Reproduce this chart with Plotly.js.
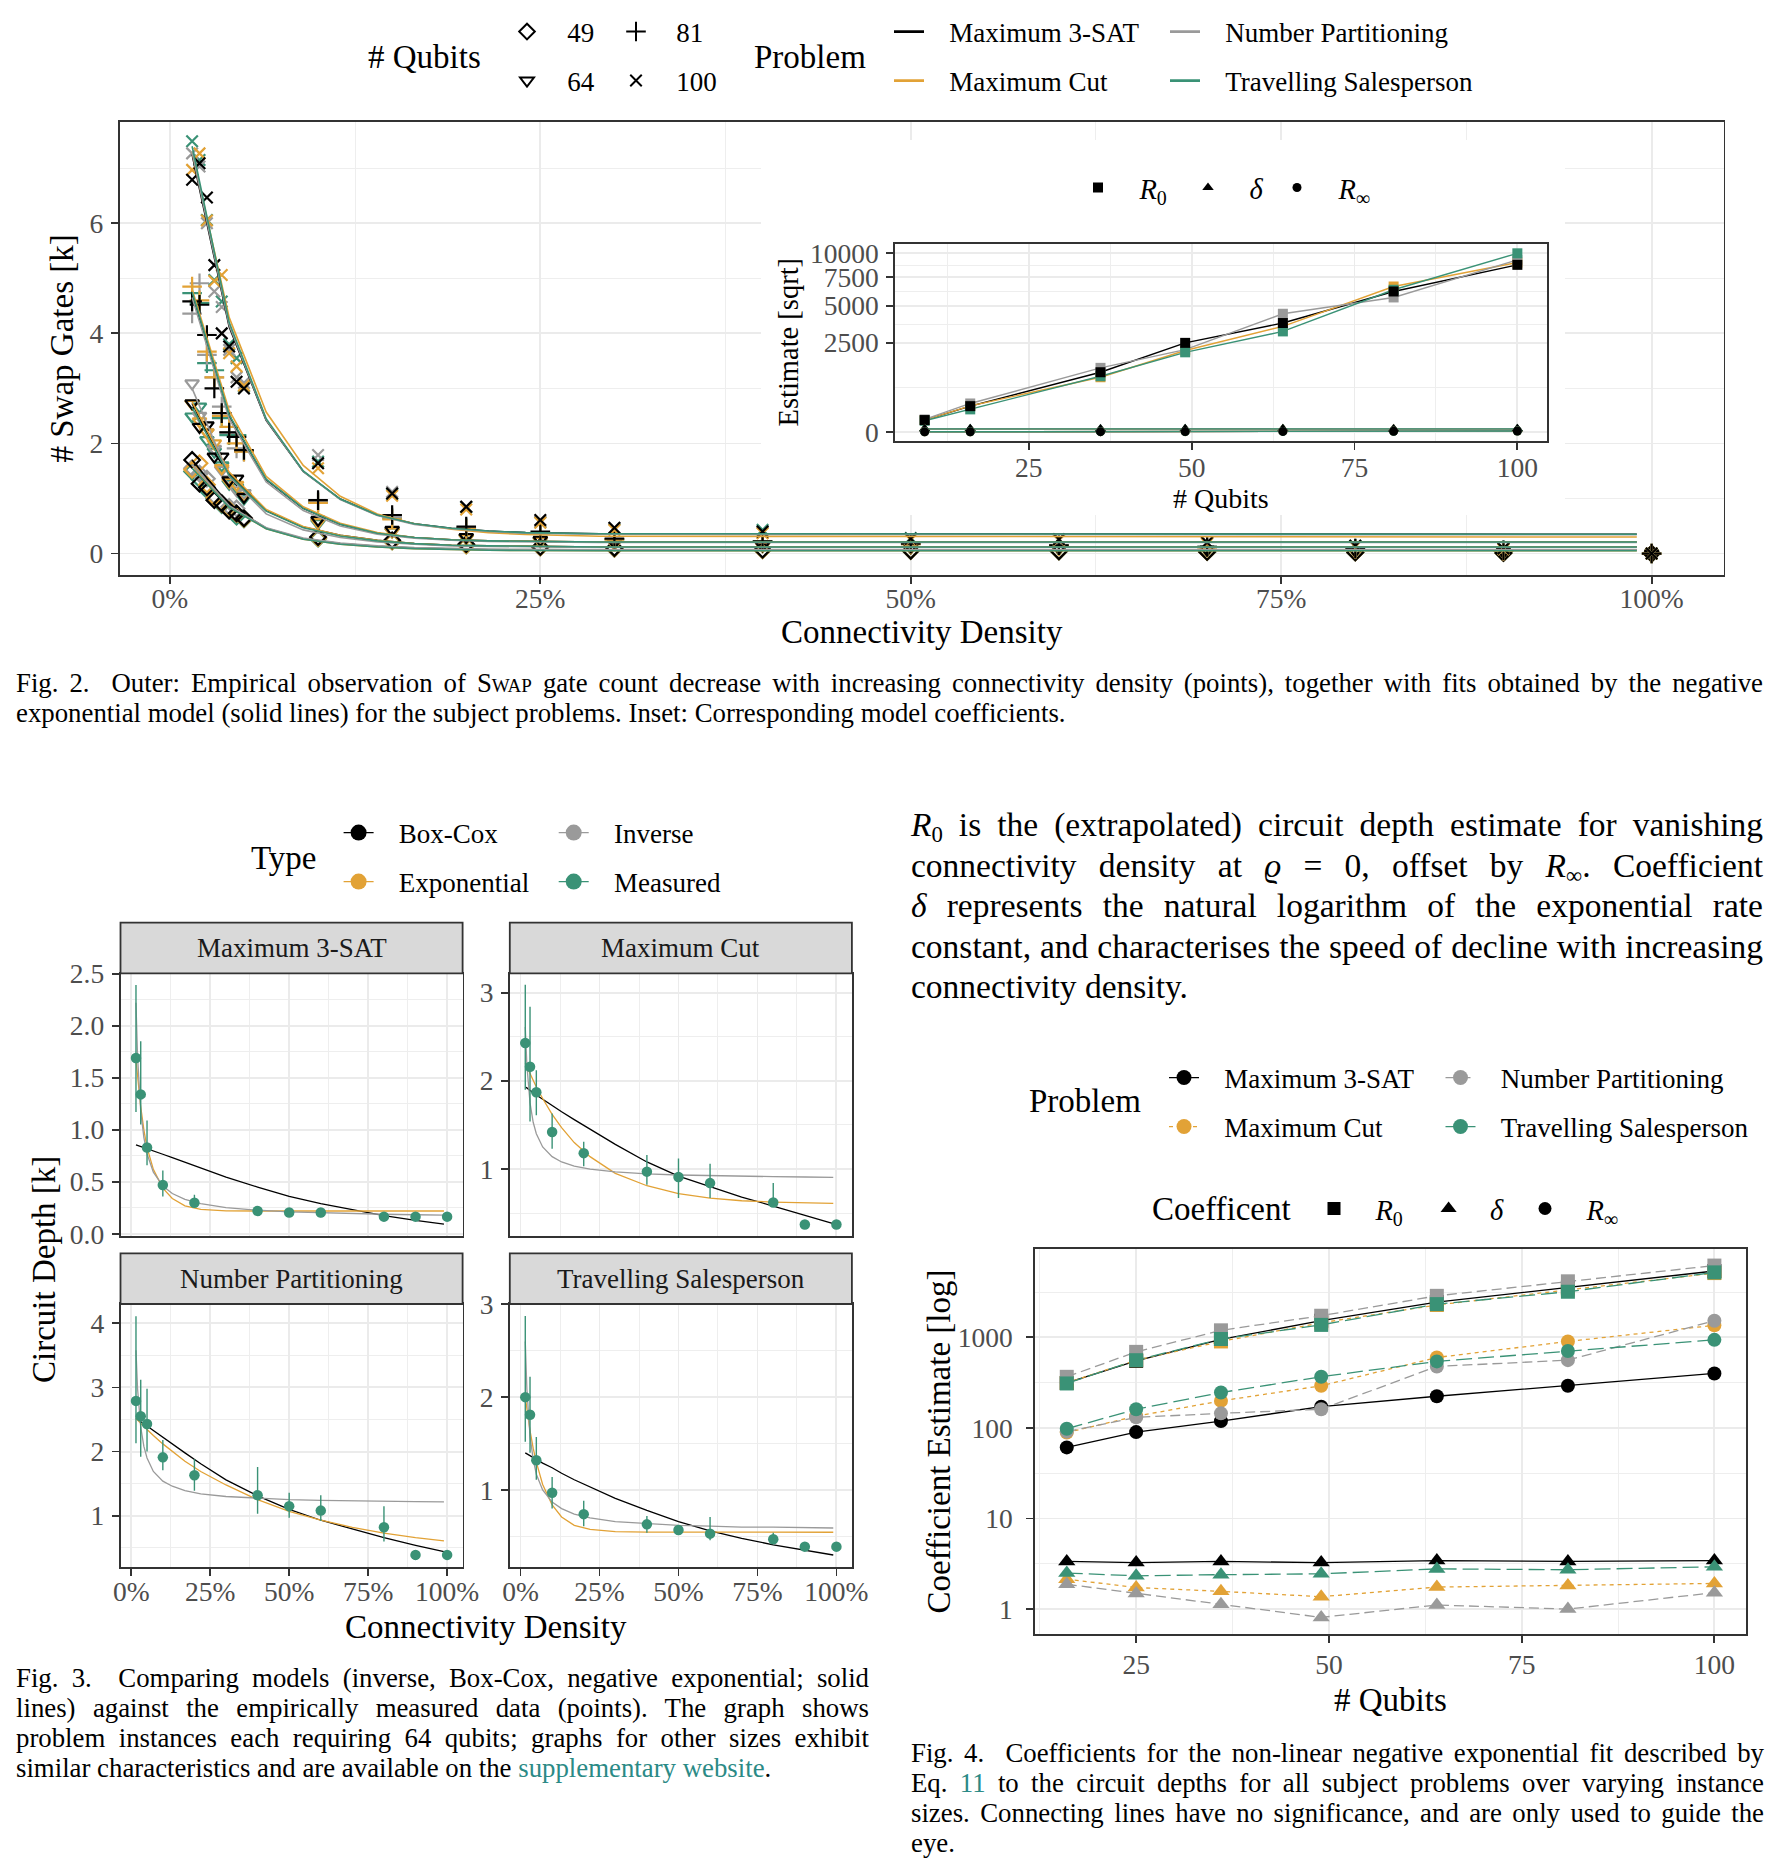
<!DOCTYPE html>
<html>
<head>
<meta charset="utf-8">
<title>SWAP gate and circuit depth figures</title>
<script src="https://cdn.plot.ly/plotly-3.0.1.min.js"></script>
<style>
html,body{margin:0;padding:0;background:#ffffff;}
#page{position:relative;width:1788px;height:1874px;overflow:hidden;background:#ffffff;
  font-family:"Liberation Serif","Times New Roman",serif;color:#000;}
#chart{position:absolute;left:0;top:0;width:1788px;height:1874px;}
.blk{position:absolute;}
.cap{font-size:26.8px;line-height:30px;}
.body{font-size:33.5px;line-height:40.6px;}
.j{text-align:justify;text-align-last:justify;white-space:nowrap;}
.l{white-space:nowrap;}
.sc{font-variant:small-caps;}
.lnk{color:#2b8a86;}
.m{font-style:italic;}
sub{font-size:0.68em;line-height:0;vertical-align:-0.28em;}
</style>
</head>
<body>
<div id="page">
<div id="chart"></div>

<div class="blk cap" style="left:16px;top:668px;width:1747px">
<div class="j">Fig. 2.&nbsp;&nbsp;Outer: Empirical observation of <span class="sc">Swap</span> gate count decrease with increasing connectivity density (points), together with fits obtained by the negative</div>
<div class="l">exponential model (solid lines) for the subject problems. Inset: Corresponding model coefficients.</div>
</div>

<div class="blk body" style="left:911px;top:805px;width:852px">
<div class="j"><span class="m">R</span><sub>0</sub> is the (extrapolated) circuit depth estimate for vanishing</div>
<div class="j">connectivity density at <span class="m">ϱ</span> = 0, offset by <span class="m">R</span><sub>∞</sub>. Coefficient</div>
<div class="j"><span class="m">δ</span> represents the natural logarithm of the exponential rate</div>
<div class="j">constant, and characterises the speed of decline with increasing</div>
<div class="l">connectivity density.</div>
</div>

<div class="blk cap" style="left:16px;top:1663px;width:853px">
<div class="j">Fig. 3.&nbsp;&nbsp;Comparing models (inverse, Box-Cox, negative exponential; solid</div>
<div class="j">lines) against the empirically measured data (points). The graph shows</div>
<div class="j">problem instances each requiring 64 qubits; graphs for other sizes exhibit</div>
<div class="l">similar characteristics and are available on the <span class="lnk">supplementary website</span>.</div>
</div>

<div class="blk cap" style="left:911px;top:1738px;width:853px">
<div class="j">Fig. 4.&nbsp;&nbsp;Coefficients for the non-linear negative exponential fit described by</div>
<div class="j">Eq. <span class="lnk">11</span> to the circuit depths for all subject problems over varying instance</div>
<div class="j">sizes. Connecting lines have no significance, and are only used to guide the</div>
<div class="l">eye.</div>
</div>
</div>

<script>
// ================= DATA =================
// ---- Fig. 2 outer: SWAP gates [k] vs connectivity density ----
const densities = [0.015,0.02,0.025,0.03,0.035,0.04,0.045,0.05,0.10,0.15,0.20,0.25,0.30,0.40,0.50,0.60,0.70,0.80,0.90,1.00];

const swaps100_sat = [6.79,7.09,6.47,5.24,4.00,3.76,3.12,3.00,1.64,1.09,0.85,0.61,0.47,0.40,0.27,0.26,0.20,0.14,0.09,0.00];
const swaps100_cut = [6.97,7.27,6.05,4.95,5.06,3.64,3.40,3.05,1.55,1.05,0.80,0.56,0.43,0.37,0.25,0.25,0.18,0.13,0.08,0.00];
const swaps100_np  = [7.27,7.03,6.00,4.76,4.48,3.70,3.20,3.10,1.79,1.12,0.85,0.58,0.45,0.38,0.26,0.24,0.19,0.13,0.08,0.00];
const swaps100_tsp = [7.49,7.15,6.06,4.97,4.58,3.80,3.55,3.03,1.67,1.08,0.84,0.57,0.44,0.43,0.28,0.25,0.19,0.14,0.09,0.00];

const swaps81_sat = [4.58,4.52,3.97,3.00,2.55,2.20,2.12,1.88,0.97,0.70,0.49,0.40,0.27,0.22,0.18,0.15,0.12,0.09,0.06,0.00];
const swaps81_cut = [4.85,4.60,3.67,3.20,2.50,2.30,2.00,1.85,0.92,0.62,0.45,0.36,0.25,0.21,0.17,0.14,0.11,0.08,0.05,0.00];
const swaps81_np  = [4.36,4.91,3.61,3.20,2.67,2.20,1.91,1.85,0.95,0.66,0.47,0.38,0.26,0.21,0.17,0.14,0.11,0.08,0.05,0.00];
const swaps81_tsp = [4.73,4.55,3.46,3.33,2.46,2.15,2.15,1.86,0.93,0.64,0.46,0.37,0.26,0.22,0.18,0.15,0.12,0.09,0.06,0.00];

const swaps64_sat = [2.73,2.30,2.33,1.76,1.76,1.33,1.36,1.03,0.61,0.43,0.30,0.25,0.20,0.15,0.12,0.10,0.07,0.05,0.03,0.00];
const swaps64_cut = [2.72,2.40,2.20,2.00,1.55,1.30,1.25,1.05,0.57,0.40,0.28,0.23,0.18,0.14,0.11,0.09,0.06,0.04,0.03,0.00];
const swaps64_np  = [3.09,2.50,2.20,1.90,1.52,1.35,1.15,1.10,0.58,0.41,0.29,0.24,0.19,0.14,0.11,0.09,0.06,0.04,0.03,0.00];
const swaps64_tsp = [2.49,2.67,2.06,1.85,1.60,1.27,1.20,1.00,0.55,0.40,0.28,0.23,0.18,0.14,0.11,0.09,0.06,0.04,0.03,0.00];

const swaps49_sat = [1.70,1.27,1.20,0.97,0.91,0.78,0.73,0.64,0.30,0.24,0.17,0.12,0.10,0.07,0.05,0.04,0.03,0.02,0.01,0.00];
const swaps49_cut = [1.52,1.64,1.25,1.02,0.90,0.80,0.72,0.63,0.28,0.22,0.15,0.11,0.09,0.06,0.05,0.04,0.03,0.02,0.01,0.00];
const swaps49_np  = [1.55,1.45,1.36,1.05,0.92,0.85,0.82,0.65,0.29,0.23,0.16,0.11,0.09,0.06,0.05,0.04,0.03,0.02,0.01,0.00];
const swaps49_tsp = [1.49,1.35,1.15,1.00,0.88,0.79,0.67,0.62,0.27,0.22,0.15,0.11,0.09,0.06,0.05,0.04,0.03,0.02,0.01,0.00];

// negative exponential fits
const fitDensities = [0.015,0.04,0.065,0.09,0.115,0.14,0.165,0.19,0.215,0.24,0.29,0.99];
const fit100_sat = [7.25,4.12,2.42,1.49,0.99,0.70,0.54,0.46,0.41,0.38,0.36,0.35];
const fit100_cut = [7.30,4.29,2.57,1.60,1.04,0.72,0.54,0.44,0.38,0.345,0.315,0.30];
const fit100_np  = [7.30,4.15,2.43,1.49,0.98,0.69,0.53,0.45,0.40,0.37,0.35,0.34];
const fit100_tsp = [7.40,4.20,2.45,1.50,0.99,0.70,0.54,0.46,0.41,0.38,0.36,0.35];
const fit81_sat = [4.70,2.50,1.34,0.82,0.53,0.37,0.29,0.25,0.23,0.22,0.21,0.21];
const fit81_cut = [4.80,2.60,1.40,0.85,0.55,0.38,0.29,0.25,0.23,0.22,0.21,0.21];
const fit81_np  = [4.65,2.45,1.30,0.78,0.50,0.35,0.28,0.24,0.22,0.21,0.20,0.20];
const fit81_tsp = [4.75,2.52,1.35,0.82,0.53,0.37,0.29,0.25,0.23,0.22,0.21,0.21];
const fit64_sat = [2.73,1.45,0.78,0.48,0.33,0.24,0.18,0.15,0.14,0.13,0.12,0.12];
const fit64_cut = [2.75,1.48,0.80,0.49,0.33,0.24,0.18,0.15,0.14,0.13,0.12,0.12];
const fit64_np  = [3.00,1.40,0.72,0.43,0.29,0.21,0.17,0.14,0.13,0.12,0.11,0.11];
const fit64_tsp = [2.65,1.42,0.77,0.47,0.32,0.23,0.18,0.15,0.14,0.13,0.12,0.12];
const fit49_sat = [1.70,0.88,0.46,0.27,0.18,0.13,0.10,0.08,0.07,0.065,0.06,0.06];
const fit49_cut = [1.60,0.85,0.45,0.26,0.17,0.12,0.09,0.07,0.06,0.055,0.05,0.05];
const fit49_np  = [1.62,0.87,0.47,0.28,0.19,0.14,0.11,0.09,0.08,0.075,0.07,0.07];
const fit49_tsp = [1.55,0.84,0.45,0.26,0.17,0.12,0.09,0.07,0.06,0.055,0.05,0.05];

// ---- Fig. 2 inset: model coefficients (sqrt axis) ----
const insetQubits = [9,16,36,49,64,81,100];
const insetR0_sat = [45,210,1120,2490,3720,6185,8750];
const insetR0_cut = [45,215,940,2080,3495,6630,8990];
const insetR0_np  = [50,256,1290,2125,4380,5670,9280];
const insetR0_tsp = [40,161,975,1990,3170,6335,10000];
const insetDelta_sat = [3.3,3.2,3.1,3.2,3.2,3.1,3.2];
const insetDelta_cut = [3.2,3.1,3.1,3.1,3.2,3.2,3.1];
const insetDelta_np  = [3.1,3.2,3.2,3.1,3.1,3.2,3.2];
const insetDelta_tsp = [3.2,3.2,3.1,3.2,3.2,3.1,3.2];
const insetRinf_sat = [0.02,0.03,0.05,0.06,0.12,0.21,0.35];
const insetRinf_cut = [0.02,0.03,0.05,0.05,0.12,0.21,0.30];
const insetRinf_np  = [0.02,0.03,0.05,0.07,0.11,0.20,0.34];
const insetRinf_tsp = [0.02,0.03,0.05,0.05,0.12,0.21,0.35];

// ---- Fig. 3: circuit depth [k], 64 qubits ----
const fig3Density = [0.015,0.03,0.05,0.10,0.20,0.40,0.50,0.60,0.80,0.90,1.00];
const meas_sat = [1.69,1.34,0.83,0.47,0.30,0.22,0.205,0.205,0.166,0.166,0.166];
const hi_sat   = [2.39,1.85,1.09,0.61,0.375,0.24,0.22,0.25,0.18,0.18,0.18];
const lo_sat   = [1.17,1.05,0.66,0.36,0.257,0.20,0.19,0.16,0.15,0.15,0.15];
const meas_cut = [2.43,2.16,1.87,1.42,1.18,0.97,0.91,0.84,0.62,0.37,0.37];
const hi_cut   = [3.09,2.84,2.12,1.63,1.31,1.16,1.12,1.06,0.84,0.39,0.39];
const lo_cut   = [1.90,1.54,1.61,1.23,1.03,0.82,0.67,0.67,0.59,0.35,0.35];
const meas_np  = [2.79,2.55,2.43,1.91,1.63,1.32,1.15,1.08,0.82,0.39,0.39];
const hi_np    = [4.11,3.12,2.98,2.18,1.88,1.76,1.36,1.32,1.15,0.42,0.42];
const lo_np    = [2.13,1.92,2.00,1.71,1.39,1.03,0.97,0.92,0.60,0.36,0.36];
const meas_tsp = [2.00,1.81,1.32,0.97,0.74,0.63,0.57,0.53,0.47,0.39,0.39];
const hi_tsp   = [2.875,2.22,1.57,1.14,0.885,0.72,0.60,0.71,0.54,0.41,0.41];
const lo_tsp   = [1.52,1.40,1.11,0.80,0.61,0.54,0.53,0.46,0.44,0.37,0.37];

const modelDensity = [0.015,0.02,0.03,0.04,0.05,0.07,0.10,0.13,0.17,0.22,0.30,0.40,0.50,0.60,0.70,0.80,0.90,0.99];
const boxcox_sat = [0.856,0.851,0.841,0.830,0.819,0.797,0.765,0.733,0.690,0.636,0.545,0.450,0.36,0.29,0.23,0.175,0.13,0.093];
const expo_sat   = [1.67,1.50,1.22,1.00,0.83,0.62,0.44,0.34,0.27,0.235,0.222,0.22,0.22,0.22,0.22,0.22,0.22,0.22];
const inverse_sat= [2.22,1.70,1.18,0.925,0.77,0.593,0.46,0.388,0.332,0.291,0.253,0.228,0.212,0.202,0.194,0.189,0.184,0.181];
const boxcox_cut = [1.93,1.92,1.89,1.87,1.84,1.79,1.72,1.65,1.56,1.45,1.28,1.08,0.92,0.80,0.68,0.58,0.47,0.38];
const expo_cut   = [2.20,2.16,2.08,2.00,1.93,1.80,1.62,1.47,1.30,1.14,0.95,0.81,0.72,0.67,0.64,0.625,0.615,0.61];
const inverse_cut= [2.61,2.18,1.75,1.53,1.40,1.25,1.14,1.08,1.033,0.998,0.967,0.945,0.932,0.923,0.917,0.913,0.909,0.906];
const boxcox_np  = [2.52,2.50,2.47,2.43,2.40,2.33,2.22,2.11,1.98,1.81,1.56,1.31,1.10,0.93,0.79,0.66,0.54,0.44];
const expo_np    = [2.52,2.49,2.44,2.39,2.34,2.25,2.12,2.00,1.85,1.69,1.48,1.25,1.07,0.93,0.82,0.73,0.66,0.61];
const inverse_np = [3.58,2.98,2.38,2.08,1.90,1.69,1.54,1.46,1.39,1.34,1.30,1.27,1.25,1.24,1.23,1.225,1.22,1.216];
const boxcox_tsp = [1.40,1.39,1.37,1.35,1.33,1.29,1.24,1.18,1.11,1.03,0.91,0.78,0.66,0.56,0.48,0.41,0.35,0.30];
const expo_tsp   = [2.00,1.87,1.64,1.45,1.30,1.06,0.84,0.71,0.62,0.576,0.552,0.546,0.545,0.545,0.545,0.545,0.545,0.545];
const inverse_tsp= [2.60,2.09,1.58,1.33,1.17,1.00,0.87,0.80,0.74,0.70,0.66,0.64,0.62,0.61,0.60,0.60,0.594,0.591];

// ---- Fig. 4: coefficient estimates (log axis) ----
const fig4Qubits = [16,25,36,49,64,81,100];
const R0_sat = [314,550,950,1528,2455,3548,5410];
const R0_cut = [314,560,902,1450,2280,3370,5130];
const R0_np  = [367,692,1197,1734,2876,4160,6210];
const R0_tsp = [310,560,960,1374,2330,3192,5220];
const delta_sat = [3.36,3.26,3.36,3.26,3.43,3.36,3.43];
const delta_cut = [2.14,1.73,1.57,1.37,1.75,1.82,1.92];
const delta_np  = [1.88,1.49,1.13,0.81,1.11,1.00,1.52];
const delta_tsp = [2.50,2.33,2.40,2.45,2.78,2.72,2.93];
const Rinf_sat = [61,90,119,172,224,292,400];
const Rinf_cut = [89,135,199,292,600,902,1359];
const Rinf_np  = [91,131,145,161,478,561,1528];
const Rinf_tsp = [98,161,246,368,543,707,940];

const problemNames = ['Maximum 3-SAT','Maximum Cut','Number Partitioning','Travelling Salesperson'];
const typeNames = ['Box-Cox','Exponential','Inverse','Measured'];
const qubitLabels = ['49','64','81','100'];
const percentTicks = ['0%','25%','50%','75%','100%'];

// ================= STYLE / GEOMETRY =================
const FONT = 'Liberation Serif, Times New Roman, serif';
const W = 1788, H = 1874;
const fx = p => p / W;
const fy = p => 1 - p / H;
const ydom = (top, bottom) => [fy(bottom), fy(top)];
const xdom = (l, r) => [fx(l), fx(r)];
const BLACK = '#000000', ORANGE = '#E2A236', GRAY = '#9A9A9A', GREEN = '#3A9276';
const pcol = [BLACK, ORANGE, GRAY, GREEN];
const NB = '\u00a0\u00a0\u00a0';

function axis(o) {
  return Object.assign({
    showline: true, mirror: true, linecolor: '#333333', linewidth: 1.8,
    ticks: 'outside', ticklen: 7, tickwidth: 1.8, tickcolor: '#333333',
    showgrid: true, gridcolor: '#EBEBEB', gridwidth: 1.9, zeroline: false,
    tickfont: {family: FONT, size: 27.5, color: '#4D4D4D'},
    fixedrange: true, automargin: false, layer: 'above traces', tickmode: 'array'
  }, o);
}
function minor(vals) {
  return {tickmode: 'array', tickvals: vals, showgrid: true, gridcolor: '#EEEEEE', gridwidth: 1, ticks: ''};
}

const traces = [];

// ---- Fig 2 outer ----
const groups = [
  {sym: 'diamond-open', size: 12, pts: [swaps49_sat, swaps49_cut, swaps49_np, swaps49_tsp], fit: [fit49_sat, fit49_cut, fit49_np, fit49_tsp]},
  {sym: 'triangle-down-open', size: 12, pts: [swaps64_sat, swaps64_cut, swaps64_np, swaps64_tsp], fit: [fit64_sat, fit64_cut, fit64_np, fit64_tsp]},
  {sym: 'cross-thin-open', size: 14, pts: [swaps81_sat, swaps81_cut, swaps81_np, swaps81_tsp], fit: [fit81_sat, fit81_cut, fit81_np, fit81_tsp]},
  {sym: 'x-thin-open', size: 11.5, pts: [swaps100_sat, swaps100_cut, swaps100_np, swaps100_tsp], fit: [fit100_sat, fit100_cut, fit100_np, fit100_tsp]}
];
groups.forEach(g => {
  [3, 2, 1, 0].forEach(i => traces.push({
    type: 'scatter', mode: 'markers', x: densities, y: g.pts[i], xaxis: 'x', yaxis: 'y',
    showlegend: false, hoverinfo: 'skip',
    marker: {symbol: g.sym, size: g.size, color: pcol[i], line: {width: 2.2, color: pcol[i]}}
  }));
});
groups.forEach(g => {
  [0, 1, 2, 3].forEach(i => traces.push({
    type: 'scatter', mode: 'lines', x: fitDensities, y: g.fit[i], xaxis: 'x', yaxis: 'y',
    showlegend: false, hoverinfo: 'skip', line: {color: pcol[i], width: 1.6}
  }));
});

// white inset background holder
traces.push({type: 'scatter', mode: 'markers', x: [null], y: [null], xaxis: 'x2', yaxis: 'y2', showlegend: false, hoverinfo: 'skip'});

// ---- Fig 2 inset ----
const insetSets = [
  {sym: 'square', size: 10, vals: [insetR0_sat, insetR0_cut, insetR0_np, insetR0_tsp]},
  {sym: 'triangle-up', size: 10, vals: [insetDelta_sat, insetDelta_cut, insetDelta_np, insetDelta_tsp]},
  {sym: 'circle', size: 9, vals: [insetRinf_sat, insetRinf_cut, insetRinf_np, insetRinf_tsp]}
];
insetSets.forEach(s => [0, 1, 2, 3].forEach(i => traces.push({
  type: 'scatter', mode: 'lines', x: insetQubits, y: s.vals[i].map(Math.sqrt), xaxis: 'x3', yaxis: 'y3',
  showlegend: false, hoverinfo: 'skip', line: {color: pcol[i], width: 1.4}
})));
insetSets.forEach(s => [1, 2, 3, 0].forEach(i => traces.push({
  type: 'scatter', mode: 'markers', x: insetQubits, y: s.vals[i].map(Math.sqrt), xaxis: 'x3', yaxis: 'y3',
  showlegend: false, hoverinfo: 'skip', marker: {symbol: s.sym, size: s.size, color: pcol[i]}
})));

// ---- Fig 3 facets ----
const panels = [
  {xa: 'x4', ya: 'y4', meas: meas_sat, hi: hi_sat, lo: lo_sat, models: [boxcox_sat, expo_sat, inverse_sat]},
  {xa: 'x5', ya: 'y5', meas: meas_cut, hi: hi_cut, lo: lo_cut, models: [boxcox_cut, expo_cut, inverse_cut]},
  {xa: 'x6', ya: 'y6', meas: meas_np, hi: hi_np, lo: lo_np, models: [boxcox_np, expo_np, inverse_np]},
  {xa: 'x7', ya: 'y7', meas: meas_tsp, hi: hi_tsp, lo: lo_tsp, models: [boxcox_tsp, expo_tsp, inverse_tsp]}
];
const modelCols = [BLACK, ORANGE, GRAY];
panels.forEach(p => {
  p.models.forEach((m, k) => traces.push({
    type: 'scatter', mode: 'lines', x: modelDensity, y: m, xaxis: p.xa, yaxis: p.ya,
    showlegend: false, hoverinfo: 'skip', line: {color: modelCols[k], width: 1.3}
  }));
  traces.push({
    type: 'scatter', mode: 'markers', x: fig3Density, y: p.meas, xaxis: p.xa, yaxis: p.ya,
    showlegend: false, hoverinfo: 'skip', marker: {color: GREEN, size: 10.5},
    error_y: {type: 'data', symmetric: false,
      array: p.hi.map((h, k) => h - p.meas[k]), arrayminus: p.lo.map((l, k) => p.meas[k] - l),
      color: GREEN, thickness: 1.4, width: 0}
  });
});

// ---- Fig 4 ----
const dashes = ['solid', '4px,4px', '10px,5px', '16px,6px'];
const fig4Sets = [
  {sym: 'square', size: 14, vals: [R0_sat, R0_cut, R0_np, R0_tsp]},
  {sym: 'triangle-up', size: 15, vals: [delta_sat, delta_cut, delta_np, delta_tsp]},
  {sym: 'circle', size: 14, vals: [Rinf_sat, Rinf_cut, Rinf_np, Rinf_tsp]}
];
fig4Sets.forEach(s => [0, 1, 2, 3].forEach(i => traces.push({
  type: 'scatter', mode: 'lines+markers', x: fig4Qubits, y: s.vals[i], xaxis: 'x8', yaxis: 'y8',
  showlegend: false, hoverinfo: 'skip',
  line: {color: pcol[i], width: 1.3, dash: dashes[i]},
  marker: {symbol: s.sym, size: s.size, color: pcol[i]}
})));

// ================= LAYOUT =================
const insetTicks = [0, 2500, 5000, 7500, 10000];
const insetTickPos = insetTicks.map(Math.sqrt);
const insetMinor = insetTickPos.slice(1).map((v, i) => (v + insetTickPos[i]) / 2);
const logTicks = [1, 10, 100, 1000];

const layout = {
  width: W, height: H, autosize: false,
  margin: {l: 0, r: 0, t: 0, b: 0, pad: 0},
  paper_bgcolor: '#ffffff', plot_bgcolor: '#ffffff',
  font: {family: FONT, size: 26, color: '#000000'},
  hovermode: false, showlegend: true,
  // Fig 2 outer
  xaxis: axis({domain: xdom(119.5, 1723.5), anchor: 'y', range: [-0.034, 1.0485],
    tickvals: [0, 0.25, 0.5, 0.75, 1], ticktext: percentTicks, minor: minor([0.125, 0.375, 0.625, 0.875]), ticklabelstandoff: -9}),
  yaxis: axis({domain: ydom(122, 575), anchor: 'x', range: [-0.39, 7.84],
    tickvals: [0, 2, 4, 6], ticktext: ['0', '2', '4', '6'], minor: minor([1, 3, 5, 7]), ticklabelstandoff: 2}),
  // white inset backdrop
  xaxis2: {domain: xdom(761, 1565), anchor: 'y2', range: [0, 1], showgrid: false, showline: false, showticklabels: false, ticks: '', zeroline: false, fixedrange: true},
  yaxis2: {domain: ydom(140, 515), anchor: 'x2', range: [0, 1], showgrid: false, showline: false, showticklabels: false, ticks: '', zeroline: false, fixedrange: true},
  // inset
  xaxis3: axis({domain: xdom(895, 1547), anchor: 'y3', range: [4.45, 104.55],
    tickvals: [25, 50, 75, 100], ticktext: ['25', '50', '75', '100'], minor: minor([12.5, 37.5, 62.5, 87.5]), ticklabelstandoff: -6}),
  yaxis3: axis({domain: ydom(244, 441), anchor: 'x3', range: [-5, 105.2],
    tickvals: insetTickPos, ticktext: insetTicks.map(String), minor: minor(insetMinor), ticklabelstandoff: 2}),
  // Fig 3 facets
  xaxis4: axis({domain: xdom(120.5, 462.6), anchor: 'y4', range: [-0.034, 1.049], tickvals: [0, 0.25, 0.5, 0.75, 1],
    showticklabels: false, ticks: '', minor: minor([0.125, 0.375, 0.625, 0.875])}),
  yaxis4: axis({domain: ydom(973.3, 1236), anchor: 'x4', range: [-0.02, 2.503],
    tickvals: [0, 0.5, 1, 1.5, 2, 2.5], ticktext: ['0.0', '0.5', '1.0', '1.5', '2.0', '2.5'], minor: minor([0.25, 0.75, 1.25, 1.75, 2.25]), ticklabelstandoff: 2}),
  xaxis5: axis({domain: xdom(509.8, 851.9), anchor: 'y5', range: [-0.034, 1.049], tickvals: [0, 0.25, 0.5, 0.75, 1],
    showticklabels: false, ticks: '', minor: minor([0.125, 0.375, 0.625, 0.875])}),
  yaxis5: axis({domain: ydom(973.3, 1236), anchor: 'x5', range: [0.24, 3.22],
    tickvals: [1, 2, 3], ticktext: ['1', '2', '3'], minor: minor([0.5, 1.5, 2.5]), ticklabelstandoff: 2}),
  xaxis6: axis({domain: xdom(120.5, 462.6), anchor: 'y6', range: [-0.034, 1.049], tickvals: [0, 0.25, 0.5, 0.75, 1],
    ticktext: percentTicks, minor: minor([0.125, 0.375, 0.625, 0.875]), ticklabelstandoff: -8}),
  yaxis6: axis({domain: ydom(1304, 1566.7), anchor: 'x6', range: [0.206, 4.30],
    tickvals: [1, 2, 3, 4], ticktext: ['1', '2', '3', '4'], minor: minor([0.5, 1.5, 2.5, 3.5]), ticklabelstandoff: 2}),
  xaxis7: axis({domain: xdom(509.8, 851.9), anchor: 'y7', range: [-0.034, 1.049], tickvals: [0, 0.25, 0.5, 0.75, 1],
    ticktext: percentTicks, minor: minor([0.125, 0.375, 0.625, 0.875]), ticklabelstandoff: -8}),
  yaxis7: axis({domain: ydom(1304, 1566.7), anchor: 'x7', range: [0.174, 3.003],
    tickvals: [1, 2, 3], ticktext: ['1', '2', '3'], minor: minor([0.5, 1.5, 2.5]), ticklabelstandoff: 2}),
  // Fig 4
  xaxis8: axis({domain: xdom(1035, 1746), anchor: 'y8', range: [11.88, 104.1],
    tickvals: [25, 50, 75, 100], ticktext: ['25', '50', '75', '100'], minor: minor([12.5, 37.5, 62.5, 87.5]), ticklabelstandoff: -2}),
  yaxis8: axis({domain: ydom(1249, 1634), anchor: 'x8', type: 'log', range: [-0.275, 3.976],
    tickvals: logTicks, ticktext: logTicks.map(String), minor: minor(logTicks.map(v => v * Math.sqrt(10))), ticklabelstandoff: 8}),
  annotations: [],
  shapes: []
};

function ann(text, x, y, size, extra) {
  return Object.assign({text: text, x: fx(x), y: fy(y), xref: 'paper', yref: 'paper',
    xanchor: 'center', yanchor: 'middle', showarrow: false,
    font: {family: FONT, size: size, color: '#000000'}}, extra || {});
}
layout.annotations.push(
  ann('# Qubits', 424, 57, 33),
  ann('Problem', 810, 57, 33),
  ann('Connectivity Density', 921.5, 632, 33),
  ann('# Swap Gates [k]', 62, 348.5, 33, {textangle: -90}),
  ann('# Qubits', 1221, 498, 28),
  ann('Estimate [sqrt]', 788, 342.5, 28.5, {textangle: -90}),
  ann('Type', 284, 858, 33),
  ann('Connectivity Density', 486, 1627, 33),
  ann('Circuit Depth [k]', 44, 1270, 33, {textangle: -90}),
  ann('Problem', 1085, 1101, 33),
  ann('Coefficent', 1221, 1209, 33),
  ann('# Qubits', 1390.5, 1700, 33),
  ann('Coefficient Estimate [log]', 938, 1441.5, 33, {textangle: -90})
);

// facet strips
const strips = [
  {l: 120.5, r: 462.6, t: 922.7, b: 973.3, text: problemNames[0]},
  {l: 509.8, r: 851.9, t: 922.7, b: 973.3, text: problemNames[1]},
  {l: 120.5, r: 462.6, t: 1253.3, b: 1304, text: problemNames[2]},
  {l: 509.8, r: 851.9, t: 1253.3, b: 1304, text: problemNames[3]}
];
strips.forEach(s => {
  layout.shapes.push({type: 'rect', xref: 'paper', yref: 'paper', x0: fx(s.l), x1: fx(s.r), y0: fy(s.b), y1: fy(s.t),
    fillcolor: '#D9D9D9', line: {color: '#333333', width: 1.8}, layer: 'above'});
  layout.annotations.push(ann(s.text, (s.l + s.r) / 2, (s.t + s.b) / 2, 27, {font: {family: FONT, size: 27, color: '#1A1A1A'}}));
});

// ---- legends: one entry per legend box, placed like the ggplot keys ----
const mk = (symbol, size, color, lw) => ({mode: 'markers', marker: {symbol: symbol, size: size, color: color, line: {width: lw || 0, color: color}}});
const ln = (color, width, dash) => ({mode: 'lines', line: {color: color, width: width, dash: dash || 'solid'}});
const lm = (color, symbol, size, dash) => ({mode: 'lines+markers', line: {color: color, width: 1.3, dash: dash || 'solid'}, marker: {symbol: symbol, size: size, color: color}});
const legendDefs = [
  {kx: 527, ky: 32, fs: 27, label: qubitLabels[0], t: mk('diamond-open', 12, BLACK, 2)},
  {kx: 636, ky: 32, fs: 27, label: qubitLabels[2], t: mk('cross-thin-open', 14, BLACK, 2)},
  {kx: 527, ky: 81, fs: 27, label: qubitLabels[1], t: mk('triangle-down-open', 12, BLACK, 2)},
  {kx: 636, ky: 81, fs: 27, label: qubitLabels[3], t: mk('x-thin-open', 11.5, BLACK, 2)},
  {kx: 909, ky: 32, fs: 27, label: problemNames[0], t: ln(BLACK, 2.8)},
  {kx: 1185, ky: 32, fs: 27, label: problemNames[2], t: ln(GRAY, 2.8)},
  {kx: 909, ky: 81, fs: 27, label: problemNames[1], t: ln(ORANGE, 2.8)},
  {kx: 1185, ky: 81, fs: 27, label: problemNames[3], t: ln(GREEN, 2.8)},
  {kx: 1098, ky: 188, fs: 28.5, label: '<i>R</i><sub>0</sub>', t: mk('square', 10, BLACK)},
  {kx: 1208, ky: 188, fs: 28.5, label: '<i>δ</i>', t: mk('triangle-up', 10, BLACK)},
  {kx: 1297, ky: 188, fs: 28.5, label: '<i>R</i><sub>∞</sub>', t: mk('circle', 9, BLACK)},
  {kx: 358.6, ky: 833, fs: 27, label: typeNames[0], t: lm(BLACK, 'circle', 16)},
  {kx: 573.7, ky: 833, fs: 27, label: typeNames[2], t: lm(GRAY, 'circle', 16)},
  {kx: 358.6, ky: 882, fs: 27, label: typeNames[1], t: lm(ORANGE, 'circle', 16)},
  {kx: 573.7, ky: 882, fs: 27, label: typeNames[3], t: lm(GREEN, 'circle', 16)},
  {kx: 1184, ky: 1078, fs: 27, label: problemNames[0], t: lm(BLACK, 'circle', 15, dashes[0])},
  {kx: 1460.5, ky: 1078, fs: 27, label: problemNames[2], t: lm(GRAY, 'circle', 15, dashes[2])},
  {kx: 1184, ky: 1127, fs: 27, label: problemNames[1], t: lm(ORANGE, 'circle', 15, dashes[1])},
  {kx: 1460.5, ky: 1127, fs: 27, label: problemNames[3], t: lm(GREEN, 'circle', 15, dashes[3])},
  {kx: 1334, ky: 1209, fs: 28.5, label: '<i>R</i><sub>0</sub>', t: mk('square', 13, BLACK)},
  {kx: 1448.6, ky: 1209, fs: 28.5, label: '<i>δ</i>', t: mk('triangle-up', 14, BLACK)},
  {kx: 1545, ky: 1209, fs: 28.5, label: '<i>R</i><sub>∞</sub>', t: mk('circle', 13, BLACK)}
];
legendDefs.forEach((d, k) => {
  const id = k === 0 ? 'legend' : 'legend' + (k + 1);
  layout[id] = {x: fx(d.kx - 20), y: fy(d.ky), xref: 'paper', yref: 'paper', xanchor: 'left', yanchor: 'middle',
    bgcolor: 'rgba(0,0,0,0)', borderwidth: 0, font: {family: FONT, size: d.fs, color: '#000000'},
    itemclick: false, itemdoubleclick: false, itemsizing: 'trace', orientation: 'v'};
  traces.push(Object.assign({type: 'scatter', x: [null], y: [null], xaxis: 'x', yaxis: 'y',
    showlegend: true, legend: id, name: NB + d.label, hoverinfo: 'skip'}, d.t));
});

Plotly.newPlot('chart', traces, layout, {staticPlot: true, displayModeBar: false, responsive: false});
</script>
</body>
</html>
